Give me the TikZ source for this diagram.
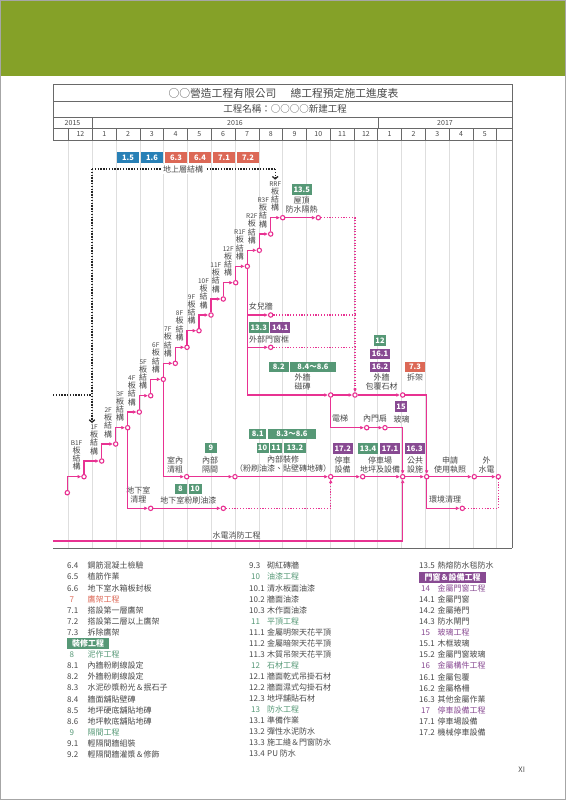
\documentclass[tikz,border=0pt]{standalone}
\usepackage{fontspec}
\setmainfont{Noto Sans CJK TC}
\usetikzlibrary{arrows.meta}

\definecolor{bandgreen}{RGB}{133,161,40}
\definecolor{flowpink}{RGB}{232,50,146}
\definecolor{tagblue}{RGB}{40,128,182}
\definecolor{tagred}{RGB}{220,104,86}
\definecolor{taggreen}{RGB}{86,152,118}
\definecolor{tagpurple}{RGB}{136,74,146}
\definecolor{inkgrey}{RGB}{72,72,72}
\definecolor{rulegrey}{RGB}{105,105,105}
\definecolor{gridgrey}{RGB}{222,222,222}

\begin{document}
\begin{tikzpicture}[
			x=1pt, y=-1pt,
			every node/.style={inner sep=0pt, text=inkgrey},
			milestone/.style={circle, draw=flowpink, fill=white, line width=1.1pt, minimum size=4.4pt},
			flow/.style={draw=flowpink, line width=1.1pt, -{Latex[length=3.6pt,width=3.8pt]}},
			dotflow/.style={draw=flowpink, line width=1.1pt, dash pattern=on 1.1pt off 1.7pt, -{Latex[length=3.6pt,width=3.8pt]}},
			dotlink/.style={draw=flowpink, line width=1.1pt, dash pattern=on 1.1pt off 1.7pt},
			bracketline/.style={draw=black!85, line width=1.3pt, dash pattern=on 1.3pt off 1.5pt},
			slab/.style={align=center, anchor=north, font=\fontsize{8}{8.2}\selectfont},
			lbl/.style={align=center, font=\fontsize{8}{9}\selectfont},
			chip/.style={fill=#1, text=white, font=\bfseries\fontsize{7.5}{8}\selectfont, minimum height=10.5pt, minimum width=20pt},
			legend/.style={anchor=north west, font=\fontsize{8}{11.04}\selectfont}
			]
			\useasboundingbox (0,0) rectangle (566,800);
			
			% Page
			\fill[bandgreen] (0,0) rectangle (566,76);
			\draw[black!35, line width=0.8pt] (0.4,0.4) rectangle (565.6,799.6);
			
			% Month grid
			\foreach \k in {0,...,18}
				\draw[gridgrey, line width=0.6pt] ({92.3+23.79*(\k-1)},140) -- ({92.3+23.79*(\k-1)},548);
			
			% Table grid
			\draw[rulegrey, line width=0.7pt] (53,84) rectangle (512,140);
			\draw[rulegrey, line width=0.6pt] (53,101) -- (512,101) (53,117) -- (512,117) (53,128) -- (512,128);
			\draw[rulegrey, line width=0.6pt] (92.3,117) -- (92.3,128) (377.8,117) -- (377.8,128);
			\foreach \k in {0,...,18}
				\draw[rulegrey, line width=0.6pt] ({92.3+23.79*(\k-1)},128) -- ({92.3+23.79*(\k-1)},140);
			\draw[rulegrey, line width=1pt] (512,140) -- (512,548) (53,548) -- (512,548);
			
			% Headings
			\node[font=\fontsize{10.8}{12}\selectfont] (title) at (283.5,93) {○○營造工程有限公司\hspace{14pt}總工程預定施工進度表};
			\node[font=\fontsize{9.5}{11}\selectfont] (project) at (285,109.2) {工程名稱：○○○○新建工程};
			\node[font=\fontsize{7}{8}\selectfont] (y2015) at (72.5,122.6) {2015};
			\node[font=\fontsize{7}{8}\selectfont] (y2016) at (235,122.6) {2016};
			\node[font=\fontsize{7}{8}\selectfont] (y2017) at (445,122.6) {2017};
			\foreach \k/\m in {0/12,1/1,2/2,3/3,4/4,5/5,6/6,7/7,8/8,9/9,10/10,11/11,12/12,13/1,14/2,15/3,16/4,17/5}
				\node[font=\fontsize{7}{8}\selectfont] at ({92.3+23.79*(\k-1)+11.9},134.2) {\m};
			
			% Tags above the structure
			\node[chip=tagblue, minimum width=22pt] (t15) at (128,157.5) {1.5};
			\node[chip=tagblue, minimum width=22pt] (t16) at (152,157.5) {1.6};
			\node[chip=tagred, minimum width=22pt] (t63) at (176,157.5) {6.3};
			\node[chip=tagred, minimum width=22pt] (t64) at (200,157.5) {6.4};
			\node[chip=tagred, minimum width=22pt] (t71) at (224,157.5) {7.1};
			\node[chip=tagred, minimum width=22pt] (t72) at (248,157.5) {7.2};
			
			% Slab milestones
			\node[milestone] (s0) at (67.3,492.7) {};
			\node[milestone] (b1f) at (84,476.7) {};
			\node[milestone] (f1) at (101.7,461) {};
			\node[milestone] (f2) at (115.7,444) {};
			\node[milestone] (f3) at (127.7,427.7) {};
			\node[milestone] (f4) at (139.3,412) {};
			\node[milestone] (f5) at (150.7,395.7) {};
			\node[milestone] (f6) at (163.3,379.3) {};
			\node[milestone] (f7) at (175.3,363.3) {};
			\node[milestone] (f8) at (187,347.3) {};
			\node[milestone] (f9) at (199,330.7) {};
			\node[milestone] (f10) at (211,315) {};
			\node[milestone] (f11) at (223.3,299) {};
			\node[milestone] (f12) at (235.7,282.7) {};
			\node[milestone] (r1f) at (247.3,266.3) {};
			\node[milestone] (r2f) at (259.3,250.3) {};
			\node[milestone] (r3f) at (270.7,234) {};
			\node[milestone] (rrf) at (282.7,217.7) {};
			
			% Slab labels
			\node[slab] (lb1f) at (76.5,440.2) {{\fontsize{6.5}{8}\selectfont B1F}\\板\\結\\構};
			\node[slab] (l1f) at (94.2,424.5) {{\fontsize{6.5}{8}\selectfont 1F}\\板\\結\\構};
			\node[slab] (l2f) at (108.2,407.5) {{\fontsize{6.5}{8}\selectfont 2F}\\板\\結\\構};
			\node[slab] (l3f) at (120.2,391.2) {{\fontsize{6.5}{8}\selectfont 3F}\\板\\結\\構};
			\node[slab] (l4f) at (131.8,375.5) {{\fontsize{6.5}{8}\selectfont 4F}\\板\\結\\構};
			\node[slab] (l5f) at (143.2,359.2) {{\fontsize{6.5}{8}\selectfont 5F}\\板\\結\\構};
			\node[slab] (l6f) at (155.8,342.8) {{\fontsize{6.5}{8}\selectfont 6F}\\板\\結\\構};
			\node[slab] (l7f) at (167.8,326.8) {{\fontsize{6.5}{8}\selectfont 7F}\\板\\結\\構};
			\node[slab] (l8f) at (179.5,310.8) {{\fontsize{6.5}{8}\selectfont 8F}\\板\\結\\構};
			\node[slab] (l9f) at (191.5,294.2) {{\fontsize{6.5}{8}\selectfont 9F}\\板\\結\\構};
			\node[slab] (l10f) at (203.5,278.5) {{\fontsize{6.5}{8}\selectfont 10F}\\板\\結\\構};
			\node[slab] (l11f) at (215.8,262.5) {{\fontsize{6.5}{8}\selectfont 11F}\\板\\結\\構};
			\node[slab] (l12f) at (228.2,246.2) {{\fontsize{6.5}{8}\selectfont 12F}\\板\\結\\構};
			\node[slab] (lr1f) at (239.8,229.8) {{\fontsize{6.5}{8}\selectfont R1F}\\板\\結\\構};
			\node[slab] (lr2f) at (251.8,213.8) {{\fontsize{6.5}{8}\selectfont R2F}\\板\\結\\構};
			\node[slab] (lr3f) at (263.2,197.5) {{\fontsize{6.5}{8}\selectfont R3F}\\板\\結\\構};
			\node[slab] (lrrf) at (275.2,181.2) {{\fontsize{6.5}{8}\selectfont RRF}\\板\\結\\構};
			
			% Structure bracket
			\coordinate (brk) at (92,169);
			\coordinate (brkl) at (53,395);
			\draw[bracketline] (brk) -- (lrrf.north |- brk);
			\draw[bracketline, -{Straight Barb[length=2.4pt,width=5.6pt]}, shorten >=1.5pt] (brk) -- (brk |- l1f.north);
			\draw[bracketline, -{Straight Barb[length=2.4pt,width=5.6pt]}, shorten >=1.5pt] (lrrf.north |- brk) -- (lrrf.north);
			\draw[bracketline] (brkl) -- (brkl -| brk);
			\node[fill=white, inner xsep=1.5pt, inner ysep=1pt, font=\fontsize{8}{9}\selectfont] (lstruct) at (183,169) {地上層結構};
			
			% Other milestones
			\node[milestone] (roof) at (318.3,217.7) {};
			\node[milestone] (parapet) at (270.7,315) {};
			\node[milestone] (winframe) at (270.7,347.3) {};
			\node[milestone] (tile) at (330.7,395) {};
			\node[milestone] (wjoin) at (355,395) {};
			\node[milestone] (clad) at (402.7,395) {};
			\node[milestone] (lift) at (366.7,427.7) {};
			\node[milestone] (door) at (385,427.7) {};
			\node[milestone] (rough) at (186.7,476.7) {};
			\node[milestone] (part) at (235,476.7) {};
			\node[milestone] (finish) at (330.7,476.7) {};
			\node[milestone] (pkeq) at (362.7,476.7) {};
			\node[milestone] (pkfl) at (402.7,476.7) {};
			\node[milestone] (pub) at (426.7,476.7) {};
			\node[milestone] (lic) at (474.3,476.7) {};
			\node[milestone] (util) at (498.3,476.7) {};
			\node[milestone] (bclean) at (150.7,508.3) {};
			\node[milestone] (bpaint) at (223.3,508.3) {};
			\node[milestone] (env) at (462.3,508.3) {};
			
			% Task tags
			\node[chip=taggreen] (t135) at (301.7,189.3) {13.5};
			\node[chip=taggreen] (t133) at (258.7,327.5) {13.3};
			\node[chip=tagpurple] (t141) at (280.3,327.5) {14.1};
			\node[chip=taggreen] (t82) at (278.8,367.2) {8.2};
			\node[chip=taggreen, minimum width=46pt] (t846) at (313,367.2) {8.4～8.6};
			\node[chip=taggreen, minimum width=12pt] (t12) at (380,340.5) {12};
			\node[chip=tagpurple] (t161) at (380,353.8) {16.1};
			\node[chip=tagpurple] (t162) at (380,367.2) {16.2};
			\node[chip=tagred] (t73) at (415,367.2) {7.3};
			\node[chip=tagpurple, minimum width=12pt] (t15b) at (401,406.7) {15};
			\node[chip=taggreen, minimum width=12pt] (t9) at (211,448) {9};
			\node[chip=taggreen, minimum width=17pt] (t81) at (257.7,434.2) {8.1};
			\node[chip=taggreen, minimum width=48pt] (t836) at (292,434.2) {8.3～8.6};
			\node[chip=taggreen, minimum width=12pt] (t10) at (262.5,447.8) {10};
			\node[chip=taggreen, minimum width=12pt] (t11) at (276,447.8) {11};
			\node[chip=taggreen, minimum width=22pt] (t132) at (295,447.8) {13.2};
			\node[chip=tagpurple] (t172) at (342.7,448.6) {17.2};
			\node[chip=taggreen] (t134) at (368,448.6) {13.4};
			\node[chip=tagpurple] (t171) at (390,448.6) {17.1};
			\node[chip=tagpurple] (t163) at (414.5,448.6) {16.3};
			\node[chip=taggreen, minimum width=12pt] (t8) at (180.5,489.2) {8};
			\node[chip=taggreen, minimum width=13pt] (t10b) at (195,489.2) {10};
			
			% Task labels
			\node[lbl] (lroof) at (301.7,204.7) {屋頂\\防水隔熱};
			\node[lbl] (lparapet) at (260.8,306.7) {女兒牆};
			\node[lbl] (lwinframe) at (269,339) {外部門窗框};
			\node[lbl] (ltile) at (302.7,381.5) {外牆\\磁磚};
			\node[lbl] (lclad) at (381.7,381.5) {外牆\\包覆石材};
			\node[lbl] (ldemol) at (415,377.3) {拆架};
			\node[lbl] (llift) at (340,418.3) {電梯};
			\node[lbl] (ldoor) at (375,418.3) {內門扇};
			\node[lbl] (lglass) at (401.7,419.3) {玻璃};
			\node[lbl] (lrough) at (175,464.5) {室內\\清粗};
			\node[lbl] (lpart) at (210,464.5) {內部\\隔間};
			\node[lbl] (lfinish) at (283,464.5) {內部裝修\\（粉刷油漆、貼壁磚地磚）};
			\node[lbl] (lpkeq) at (342.7,464.5) {停車\\設備};
			\node[lbl] (lpkfl) at (380,464.5) {停車場\\地坪及設備};
			\node[lbl] (lpub) at (415,464.5) {公共\\設施};
			\node[lbl] (llic) at (450,464.5) {申請\\使用執照};
			\node[lbl] (lutil) at (486.7,464.5) {外\\水電};
			\node[lbl] (lbclean) at (138.3,494.5) {地下室\\清理};
			\node[lbl] (lbpaint) at (188.3,500) {地下室粉刷油漆};
			\node[lbl] (lenv) at (445,499.3) {環境清理};
			\node[lbl] (lmep) at (236.7,535) {水電消防工程};
			
			% Staircase
			\draw[flow] (s0) |- (b1f);
			\draw[flow] (b1f) |- (f1);
			\draw[flow] (f1) |- (f2);
			\draw[flow] (f2) |- (f3);
			\draw[flow] (f3) |- (f4);
			\draw[flow] (f4) |- (f5);
			\draw[flow] (f5) |- (f6);
			\draw[flow] (f6) |- (f7);
			\draw[flow] (f7) |- (f8);
			\draw[flow] (f8) |- (f9);
			\draw[flow] (f9) |- (f10);
			\draw[flow] (f10) |- (f11);
			\draw[flow] (f11) |- (f12);
			\draw[flow] (f12) |- (r1f);
			\draw[flow] (r1f) |- (r2f);
			\draw[flow] (r2f) |- (r3f);
			\draw[flow] (r3f) |- (rrf);
			\draw[flow] (rrf) -- (roof);
			\draw[dotflow] (roof) -| (wjoin);
			
			% Exterior works
			\draw[flow] (r1f) |- (tile);
			\draw[flow] (r1f |- parapet) -- (parapet);
			\draw[flow] (r1f |- winframe) -- (winframe);
			\draw[dotlink] (parapet) -- (parapet -| wjoin);
			\draw[dotlink] (winframe) -- (winframe -| wjoin);
			\draw[flow] (tile) -- (wjoin);
			\draw[flow] (wjoin) -- (clad);
			\draw[flow] (clad) -| (pub);
			\draw[flow] (tile) |- (lift);
			\draw[flow] (lift) -- (door);
			\draw[flow] (door) -| (pkfl);
			
			% Interior works
			\draw[flow] (f6) |- (rough);
			\draw[flow] (rough) -- (part);
			\draw[flow] (part) -- (finish);
			\draw[flow] (finish) -- (pkeq);
			\draw[flow] (pkeq) -- (pkfl);
			\draw[flow] (pkfl) -- (pub);
			\draw[flow] (pub) -- (lic);
			\draw[flow] (lic) -- (util);
			\draw[flow] (pub) |- (env);
			\draw[dotlink] (env) -| (util);
			
			% Basement
			\draw[flow] (f3) |- (bclean);
			\draw[flow] (bclean) -- (bpaint);
			\draw[dotflow] (bpaint) -| (finish);
			
			% Services
			\coordinate (mepstart) at (53,541);
			\draw[flow] (mepstart) -| (pkfl);
			
			% Legend
			\node[legend] (lega) at (67,561) {%
				\begin{tabular}{@{}p{20.5pt}@{}l@{}}
					6.4 & 鋼筋混凝土檢驗\\
					6.5 & 植筋作業\\
					6.6 & 地下室水箱板封板\\
					\hspace*{2.5pt}\textcolor{tagred}{7} & \textcolor{tagred}{鷹架工程}\\
					7.1 & 搭設第一層鷹架\\
					7.2 & 搭設第二層以上鷹架\\
					7.3 & 拆除鷹架\\
					\multicolumn{2}{@{}l@{}}{\fboxsep=1.5pt\colorbox{taggreen}{\makebox[39pt]{\color{white}\bfseries 裝修工程}}}\\
					\hspace*{2.5pt}\textcolor{taggreen}{8} & \textcolor{taggreen}{泥作工程}\\
					8.1 & 內牆粉刷線設定\\
					8.2 & 外牆粉刷線設定\\
					8.3 & 水泥砂漿粉光＆抿石子\\
					8.4 & 牆面舖貼壁磚\\
					8.5 & 地坪硬底舖貼地磚\\
					8.6 & 地坪軟底舖貼地磚\\
					\hspace*{2.5pt}\textcolor{taggreen}{9} & \textcolor{taggreen}{隔間工程}\\
					9.1 & 輕隔間牆組裝\\
					9.2 & 輕隔間牆灌漿＆修飾
				\end{tabular}};
			\node[legend] (legb) at (249,561) {%
				\begin{tabular}{@{}p{18pt}@{}l@{}}
					9.3 & 砌紅磚牆\\
					\hspace*{2pt}\textcolor{taggreen}{10} & \textcolor{taggreen}{油漆工程}\\
					10.1 & 清水板面油漆\\
					10.2 & 牆面油漆\\
					10.3 & 木作面油漆\\
					\hspace*{2pt}\textcolor{taggreen}{11} & \textcolor{taggreen}{平頂工程}\\
					11.1 & 金屬明架天花平頂\\
					11.2 & 金屬暗架天花平頂\\
					11.3 & 木質吊架天花平頂\\
					\hspace*{2pt}\textcolor{taggreen}{12} & \textcolor{taggreen}{石材工程}\\
					12.1 & 牆面乾式吊掛石材\\
					12.2 & 牆面濕式勾掛石材\\
					12.3 & 地坪舖貼石材\\
					\hspace*{2pt}\textcolor{taggreen}{13} & \textcolor{taggreen}{防水工程}\\
					13.1 & 準備作業\\
					13.2 & 彈性水泥防水\\
					13.3 & 施工縫＆門窗防水\\
					13.4 & PU 防水
				\end{tabular}};
			\node[legend] (legc) at (419,561) {%
				\begin{tabular}{@{}p{18.5pt}@{}l@{}}
					13.5 & 熱熔防水毯防水\\
					\multicolumn{2}{@{}l@{}}{\fboxsep=1.5pt\colorbox{tagpurple}{\makebox[64pt]{\color{white}\bfseries 門窗＆設備工程}}}\\
					\hspace*{2pt}\textcolor{tagpurple}{14} & \textcolor{tagpurple}{金屬門窗工程}\\
					14.1 & 金屬門窗\\
					14.2 & 金屬捲門\\
					14.3 & 防水閘門\\
					\hspace*{2pt}\textcolor{tagpurple}{15} & \textcolor{tagpurple}{玻璃工程}\\
					15.1 & 木框玻璃\\
					15.2 & 金屬門窗玻璃\\
					\hspace*{2pt}\textcolor{tagpurple}{16} & \textcolor{tagpurple}{金屬構件工程}\\
					16.1 & 金屬包覆\\
					16.2 & 金屬格柵\\
					16.3 & 其他金屬作業\\
					\hspace*{2pt}\textcolor{tagpurple}{17} & \textcolor{tagpurple}{停車設備工程}\\
					17.1 & 停車場設備\\
					17.2 & 機械停車設備
				\end{tabular}};
			
			% Page number
			\node[font=\fontsize{7.5}{9}\selectfont] (pageno) at (521.7,769.3) {XI};
		\end{tikzpicture}
\end{document}
